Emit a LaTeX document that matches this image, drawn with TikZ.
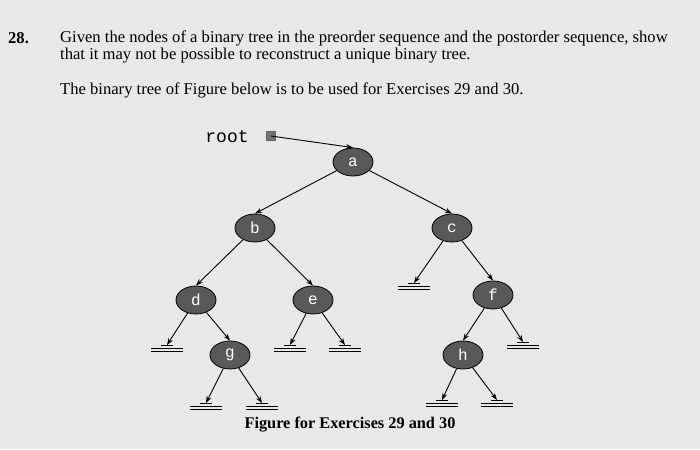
\documentclass[tikz,border=0pt]{standalone}
\usepackage{fontspec}
\setmainfont{Liberation Serif}
\setmonofont{Liberation Mono}
\usetikzlibrary{shapes.geometric,arrows.meta}
\begin{document}
\begin{tikzpicture}[x=1pt,y=-1pt,
  tn/.style={ellipse,draw=black,line width=0.8pt,fill=black!65,text=white,font=\ttfamily\fontsize{16}{16}\selectfont,minimum width=40pt,minimum height=28pt,inner sep=0pt},
  edge/.style={draw,-{Stealth[length=7pt,width=5pt]},line width=0.9pt},
  txt/.style={anchor=west,font=\fontsize{16.6}{18}\selectfont,inner sep=0pt}]
\fill[gray!18] (0,0) rectangle (700,449);
\useasboundingbox (0,0) rectangle (700,449);
\node[txt,font=\bfseries\fontsize{16.6}{18}\selectfont] (num) at (8,38) {28.};
\node[txt] (l1) at (60,38) {Given the nodes of a binary tree in the preorder sequence and the postorder sequence, show};
\node[txt] (l2) at (60,56) {that it may not be possible to reconstruct a unique binary tree.};
\node[txt] (l3) at (60,90) {The binary tree of Figure below is to be used for Exercises 29 and 30.};
\node[font=\ttfamily\fontsize{18}{18}\selectfont] (rt) at (227,137) {root};
\node[draw=black!60,fill=black!55,minimum size=9pt,inner sep=0pt] (rb) at (271,136) {};
\node[tn] (a) at (353,162) {a};
\node[tn] (b) at (255,228) {b};
\node[tn] (c) at (452,228) {c};
\node[tn] (d) at (196,300) {d};
\node[tn] (e) at (313,300) {e};
\node[tn] (f) at (493,295) {f};
\node[tn] (g) at (230,355) {g};
\node[tn] (h) at (463,355) {h};
\foreach \n/\x/\y in {dl/167/345, el/290/345, er/345/345, cl/414/283, fr/523/342, gl/206/403, gr/262/403, hl/442/400, hr/497/400}{
  \coordinate (\n) at (\x,\y);
  \draw[line width=0.8pt] (\x-6,\y) -- (\x+6,\y) (\x-16,\y+3.5) -- (\x+16,\y+3.5) (\x-16,\y+6.5) -- (\x+16,\y+6.5);
}
\draw[edge] (rb.center) -- (a.north);
\draw[edge] (a) -- (b.north); \draw[edge] (a) -- (c.north);
\draw[edge] (b) -- (d.north); \draw[edge] (b) -- (e.north);
\draw[edge] (c) -- (cl); \draw[edge] (c) -- (f.north);
\draw[edge] (d) -- (dl); \draw[edge] (d) -- (g.north);
\draw[edge] (e) -- (el); \draw[edge] (e) -- (er);
\draw[edge] (f) -- (h.north); \draw[edge] (f) -- (fr);
\draw[edge] (g) -- (gl); \draw[edge] (g) -- (gr);
\draw[edge] (h) -- (hl); \draw[edge] (h) -- (hr);
\node[font=\bfseries\fontsize{16.3}{18}\selectfont] (cap) at (350,425) {Figure for Exercises 29 and 30};
\end{tikzpicture}
\end{document}
